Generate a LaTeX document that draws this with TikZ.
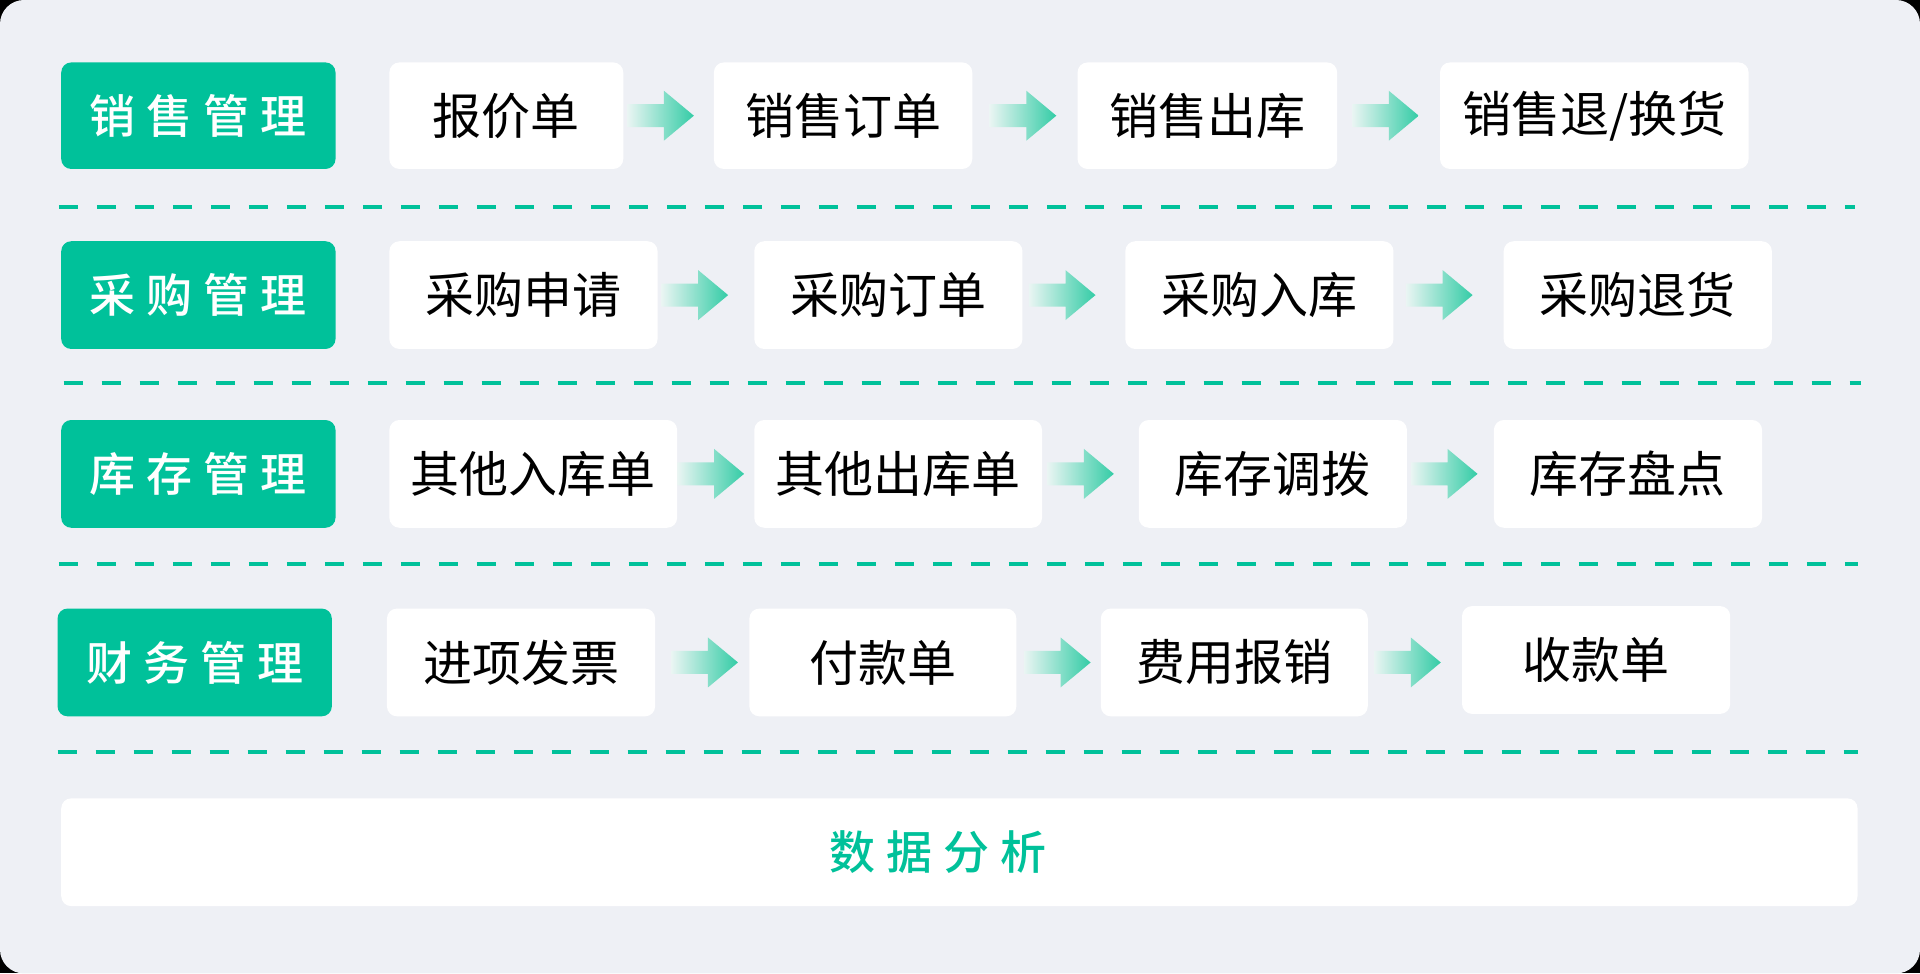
\documentclass[tikz,border=0pt]{standalone}
\usepackage{fontspec}
\newfontfamily\cjk{Noto Sans CJK SC}
\newfontfamily\cjkm{Noto Sans CJK SC}[UprightFont=* Medium]
\usetikzlibrary{calc}
\definecolor{bgc}{RGB}{238,240,245}
\definecolor{grn}{RGB}{0,193,154}
\definecolor{agrn}{RGB}{52,204,166}
\definecolor{afade}{RGB}{234,245,243}
\tikzset{
  x=1.2245pt, y=-1.2245pt,
  lab/.style={fill=grn, rounded corners=10pt, text=white, inner sep=0pt,
    font=\cjkm\fontsize{46}{46}\selectfont},
  itm/.style={fill=white, rounded corners=10pt, text=black, inner sep=0pt,
    font=\cjk\fontsize{49}{49}\selectfont},
  sepline/.style={draw=grn, line width=4pt, dash pattern=on 19pt off 19pt},
  arrshade/.style={left color=afade, right color=agrn},
}
\newcommand{\bx}[7]{\node[#2, minimum width={1.2245*(#4-#3)}, minimum height={1.2245*(#6-#5)}] (#1) at ({(#3+#4)/2},{(#5+#6)/2}) {#7};}
\newcommand{\lsp}[4]{#1\hspace{11pt}#2\hspace{11pt}#3\hspace{11pt}#4}
% arrow connector from node #1 towards node #2, starting #3 after #1's east side
\newcommand{\arr}[3]{\path (#1.east) -- (#2.west) coordinate[pos=0] (#1-#2-s);
  \shade[arrshade] ($(#1-#2-s)+(#3,0)$) ++(0,-9.4) -- ++(30,0) -- ++(0,-11) -- ++(24.5,20.4) -- ++(-24.5,20.4) -- ++(0,-11) -- ++(-30,0) -- cycle;}
\begin{document}
\begin{tikzpicture}
\useasboundingbox (0,0) rectangle (1568,795);
\fill[black] (0,0) rectangle (1568,795);
\fill[bgc, rounded corners=24pt] (0,0) rectangle (1568,795);

% row 1
\bx{l1}{lab}{50}{274}{51}{138}{\lsp{销}{售}{管}{理}}
\bx{a1}{itm}{318}{509}{51}{138}{报价单}
\bx{a2}{itm}{583}{794}{51}{138}{销售订单}
\bx{a3}{itm}{880}{1092}{51}{138}{销售出库}
\bx{a4}{itm}{1176}{1428}{51}{138}{销售退/换货}
\arr{a1}{a2}{3}
\arr{a2}{a3}{14}
\arr{a3}{a4}{12}
\draw[sepline] (48,169) -- (1515,169);

% row 2
\bx{l2}{lab}{50}{274}{197}{285}{\lsp{采}{购}{管}{理}}
\bx{b1}{itm}{318}{537}{197}{285}{采购申请}
\bx{b2}{itm}{616}{835}{197}{285}{采购订单}
\bx{b3}{itm}{919}{1138}{197}{285}{采购入库}
\bx{b4}{itm}{1228}{1447}{197}{285}{采购退货}
\arr{b1}{b2}{3}
\arr{b2}{b3}{5}
\arr{b3}{b4}{10}
\draw[sepline] (52,313) -- (1520,313);

% row 3
\bx{l3}{lab}{50}{274}{343}{431}{\lsp{库}{存}{管}{理}}
\bx{c1}{itm}{318}{553}{343}{431}{其他入库单}
\bx{c2}{itm}{616}{851}{343}{431}{其他出库单}
\bx{c3}{itm}{930}{1149}{343}{431}{库存调拨}
\bx{c4}{itm}{1220}{1439}{343}{431}{库存盘点}
\arr{c1}{c2}{0}
\arr{c2}{c3}{4}
\arr{c3}{c4}{3}
\draw[sepline] (48,461) -- (1517,461);

% row 4
\bx{l4}{lab}{47}{271}{497}{585}{\lsp{财}{务}{管}{理}}
\bx{d1}{itm}{316}{535}{497}{585}{进项发票}
\bx{d2}{itm}{612}{830}{497}{585}{付款单}
\bx{d3}{itm}{899}{1117}{497}{585}{费用报销}
\bx{d4}{itm}{1194}{1413}{495}{583}{收款单}
\arr{d1}{d2}{13}
\arr{d2}{d3}{6}
\arr{d3}{d4}{5}
\draw[sepline] (47,614) -- (1517,614);

% bottom
\bx{e}{itm}{50}{1517}{652}{740}{\textcolor{grn}{\cjkm\fontsize{46}{46}\selectfont\lsp{数}{据}{分}{析}\hspace{42pt}}}
\end{tikzpicture}
\end{document}
